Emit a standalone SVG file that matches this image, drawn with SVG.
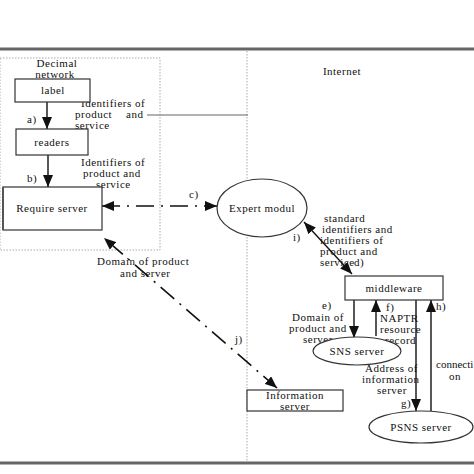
<svg xmlns="http://www.w3.org/2000/svg" width="474" height="474" viewBox="0 0 474 474">
<defs>
<style>
text{font-family:"Liberation Serif","Times New Roman",serif;font-size:11px;letter-spacing:0.5px;fill:#111}
.box{fill:#fff;stroke:#333;stroke-width:1.2}
.ell{fill:#fff;stroke:#333;stroke-width:1.2}
.ln{stroke:#111;stroke-width:1.4;fill:none}
.dd{stroke:#111;stroke-width:1.6;fill:none;stroke-dasharray:18 7 2 7}
.frame{stroke:#666;stroke-width:3}
.dot{stroke:#aaa;stroke-width:1;stroke-dasharray:1.5 1.5;fill:none}
</style>
<marker id="ah" markerUnits="userSpaceOnUse" viewBox="0 0 12 10" refX="12" refY="5" markerWidth="12" markerHeight="10" orient="auto-start-reverse">
<path d="M0,0 L12,5 L0,10 z" fill="#111"/>
</marker>
</defs>
<rect width="474" height="474" fill="#fff"/>
<g id="frame">
<line class="frame" x1="0" y1="49" x2="474" y2="49"/>
<line class="frame" x1="0" y1="463" x2="474" y2="463"/>
<line class="dot" x1="247" y1="51" x2="247" y2="462"/>
<rect class="dot" x="0" y="58" width="160" height="192"/>
<text x="57" y="67" text-anchor="middle">Decimal</text>
<text x="55" y="78" text-anchor="middle">network</text>
<text x="342" y="75" text-anchor="middle">Internet</text>
</g>
<g id="connectors">
<line class="ln" x1="47" y1="102" x2="47" y2="129" marker-end="url(#ah)"/>
<text x="27" y="123">a)</text>
<line class="ln" x1="48" y1="155" x2="48" y2="187" marker-end="url(#ah)"/>
<text x="27" y="182">b)</text>
<line stroke="#666" stroke-width="1.2" x1="147" y1="115" x2="248" y2="115"/>
<text x="81" y="107">Identifiers of</text>
<text x="75" y="118">product</text><text x="126" y="118">and</text>
<text x="75" y="129">service</text>
<text x="81" y="166">Identifiers of</text>
<text x="83" y="177">product and</text>
<text x="96" y="188">service</text>
<line class="dd" x1="102" y1="206" x2="217" y2="206" marker-start="url(#ah)" marker-end="url(#ah)"/>
<text x="189" y="198">c)</text>
<line class="ln" x1="304" y1="222" x2="352" y2="274" marker-start="url(#ah)" marker-end="url(#ah)"/>
<text x="293" y="241">i)</text>
<text x="324" y="222">standard</text>
<text x="322" y="233">identifiers and</text>
<text x="320" y="244">identifiers of</text>
<text x="320" y="255">product and</text>
<text x="320" y="266">service</text><text x="354" y="266">d)</text>
<line class="ln" x1="354" y1="300" x2="354" y2="338" marker-end="url(#ah)"/>
<line class="ln" x1="376" y1="336" x2="376" y2="300" marker-end="url(#ah)"/>
<line class="ln" x1="416" y1="300" x2="416" y2="411" marker-end="url(#ah)"/>
<line class="ln" x1="431" y1="411" x2="431" y2="300" marker-end="url(#ah)"/>
<text x="322" y="309">e)</text>
<text x="292" y="321">Domain of</text>
<text x="289" y="332">product and</text>
<text x="303" y="343">server</text>
<text x="386" y="311">f)</text>
<text x="380" y="322">NAPTR</text>
<text x="380" y="333">resource</text>
<text x="385" y="344">record</text>
<text x="436" y="310">h)</text>
<text x="365" y="372">Address of</text>
<text x="362" y="383">information</text>
<text x="377" y="394">server</text>
<text x="401" y="407">g)</text>
<text x="436" y="368" style="letter-spacing:0">connecti</text>
<text x="449" y="380">on</text>
<line class="dd" x1="277" y1="388" x2="104" y2="238" marker-start="url(#ah)" marker-end="url(#ah)"/>
<text x="235" y="343">j)</text>
<text x="97" y="265">Domain of product</text>
<text x="120" y="277">and server</text>
</g>
<g id="label"><rect class="box" x="15" y="79" width="75" height="23"/><text x="53" y="94" text-anchor="middle">label</text></g>
<g id="readers"><rect class="box" x="16" y="129" width="72" height="26"/><text x="52" y="146" text-anchor="middle">readers</text></g>
<g id="require-server"><rect class="box" x="3" y="187" width="99" height="43"/><line stroke="#555" stroke-width="2" x1="3" y1="187" x2="3" y2="230"/><text x="52" y="212" text-anchor="middle">Require server</text></g>
<g id="expert-modul"><ellipse class="ell" cx="262" cy="208" rx="45" ry="29"/><text x="262" y="212" text-anchor="middle">Expert modul</text></g>
<g id="middleware"><rect class="box" x="345" y="276" width="98" height="24"/><text x="394" y="292" text-anchor="middle">middleware</text></g>
<g id="sns-server"><ellipse class="ell" cx="357" cy="351" rx="44" ry="14"/><text x="357" y="355" text-anchor="middle">SNS server</text></g>
<g id="psns-server"><ellipse class="ell" cx="421" cy="427" rx="52" ry="16"/><text x="421" y="431" text-anchor="middle">PSNS server</text></g>
<g id="information-server"><rect class="box" x="247" y="390" width="96" height="21"/><text x="295" y="399" text-anchor="middle">Information</text><text x="295" y="410" text-anchor="middle">server</text></g>
</svg>
